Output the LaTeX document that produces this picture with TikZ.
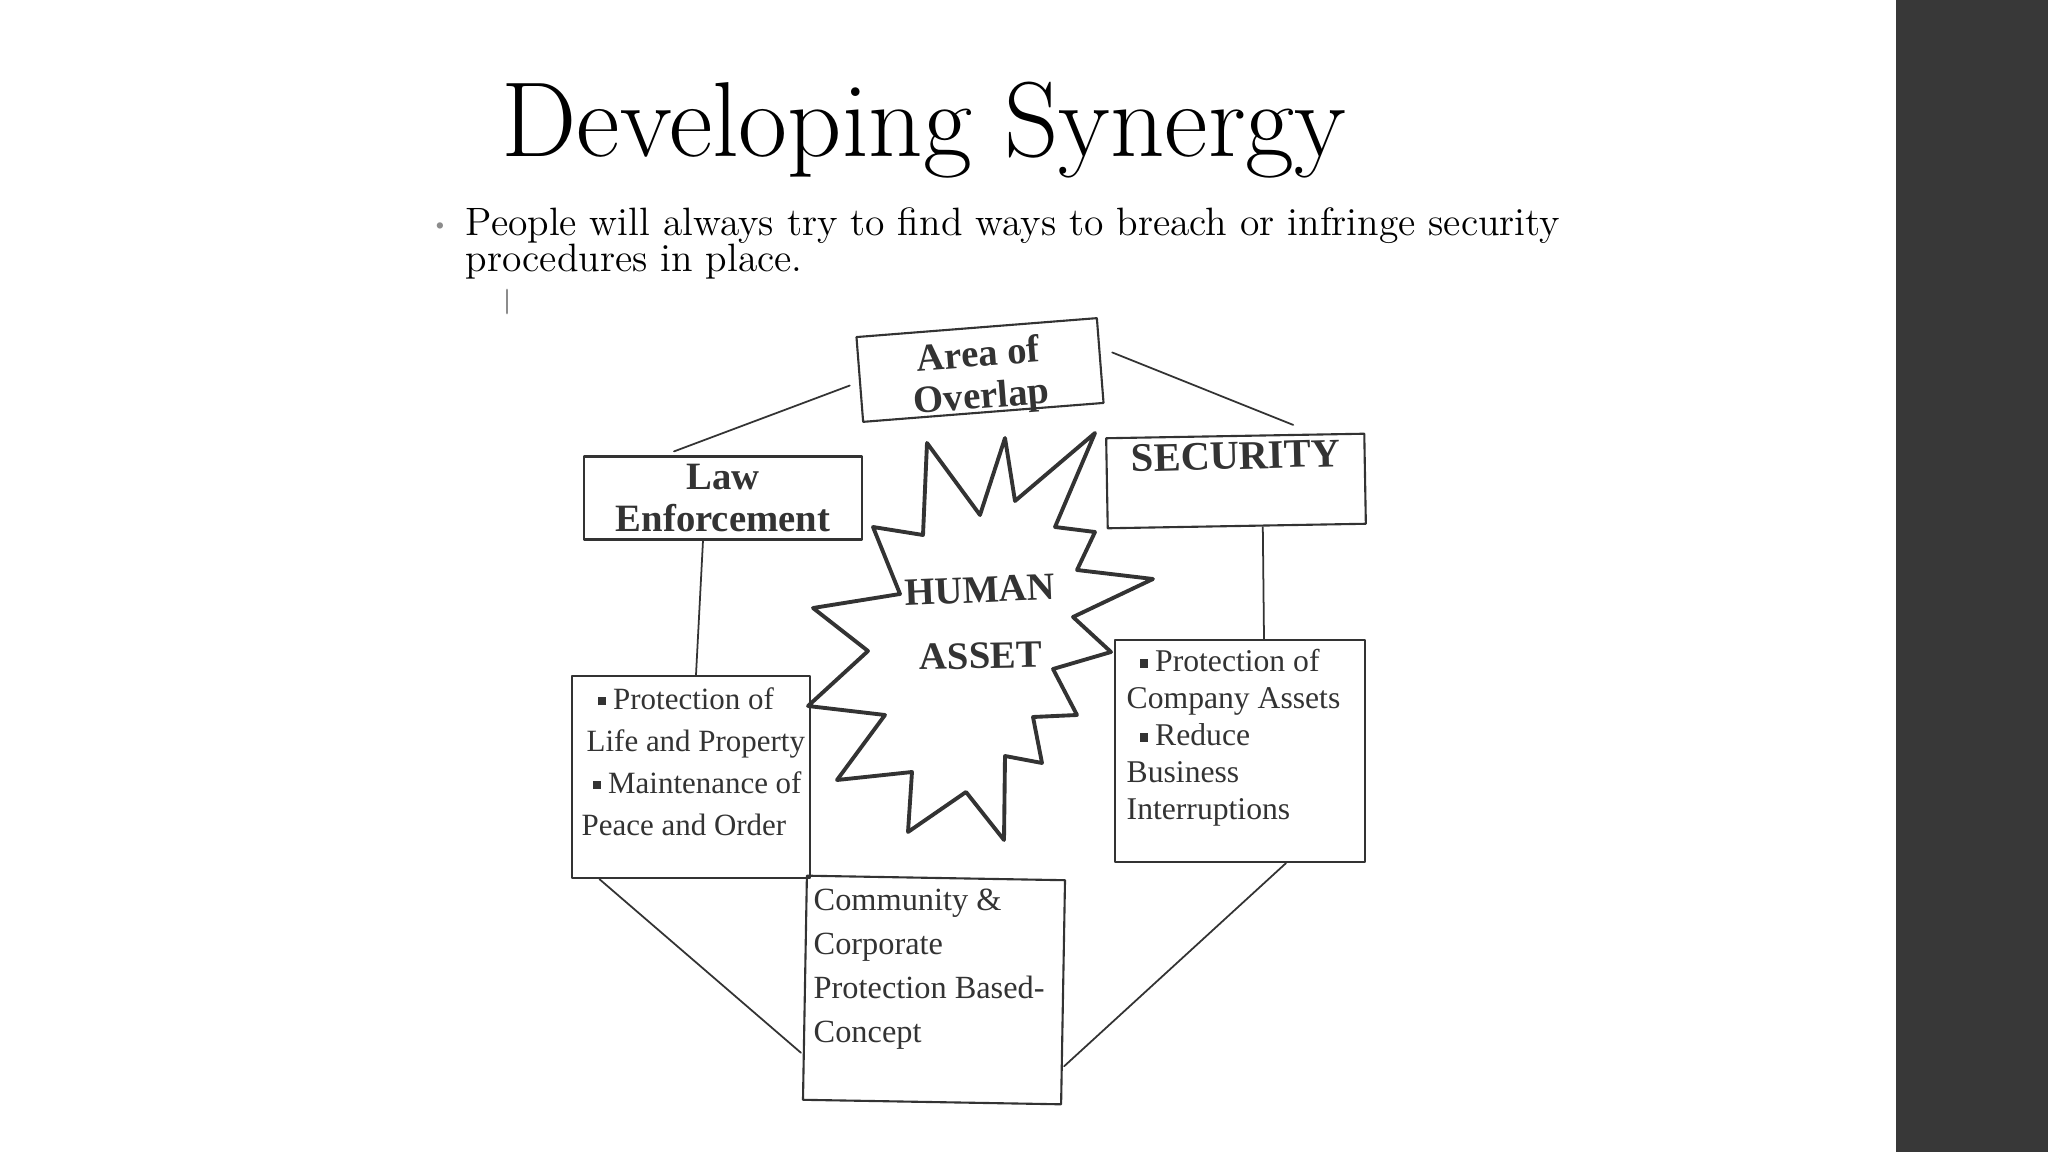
\documentclass[tikz,border=0pt]{standalone}
\usepackage{fontspec}
\newfontfamily\scanfont{Liberation Serif}
\usetikzlibrary{calc}
\definecolor{tttttt}{rgb}{0.2,0.2,0.2}
\definecolor{rsrsrs}{rgb}{0.22,0.22,0.22}
\definecolor{aaaaaa}{rgb}{0.55,0.55,0.55}
\newcommand{\sqb}{\raisebox{1.2pt}{\rule{2.4pt}{2.4pt}}\hspace{2pt}}

\begin{document}
\begin{tikzpicture}[line cap=round,line join=round,x=0.01cm,y=-0.01cm,
	box/.style={draw=tttttt,line width=0.6pt,inner sep=0pt},
	bold/.style={font=\scanfont\bfseries\fontsize{11}{12}\selectfont,align=center,text=tttttt},
	body/.style={font=\scanfont\fontsize{8.8}{11.9}\selectfont,align=left,anchor=north west,inner sep=0pt,text=tttttt},
	link/.style={draw=tttttt,line width=0.5pt}]
	\useasboundingbox (0,0) rectangle (2048,1152);
	\fill[color=white] (0,0) rectangle (2048,1152);
	\fill[color=rsrsrs] (1896,0) rectangle (2048,1152);
	\node[anchor=base,font=\fontsize{30.3}{34}\selectfont] (title) at (924,157) {Developing Synergy};
	\node[text=aaaaaa,font=\fontsize{6}{6}\selectfont] (dot) at (440,227) {\textbullet};
	\node[anchor=north west,inner sep=0pt,align=left,font=\fontsize{11.25}{9.4}\selectfont] (point) at (465,207) {People will always try to find ways to breach or infringe security\\[-0.8pt]procedures in place.};
	\draw[color=aaaaaa,line width=0.8pt] (507,290) -- (507,313);
	\node[box,rotate=4.5,minimum width=2.41cm,minimum height=0.85cm] (ovl) at (980,370) {};
		\node[bold,rotate=4.5] (ovltxt) at (980,378) {Area of\\Overlap};
	\node[box,bold,minimum width=2.78cm,minimum height=0.83cm] (law) at (723,498) {Law\\Enforcement};
	\node[box,rotate=1,minimum width=2.58cm,minimum height=0.9cm] (sec) at (1236,481) {};
		\node[bold,rotate=1.5,font=\scanfont\bfseries\fontsize{11.5}{11.5}\selectfont] (sectxt) at (1236,456) {SECURITY};
	\node[box,minimum width=2.37cm,minimum height=2.02cm] (life) at (691,777) {};
		\node[body] (lifetxt) at (581,687) {\hspace*{0.16cm}\sqb Protection of\\\hspace*{0.05cm}Life and Property\\\hspace*{0.11cm}\sqb Maintenance of\\Peace and Order};
	\node[box,minimum width=2.5cm,minimum height=2.22cm] (comp) at (1240,751) {};
		\node[body,font=\scanfont\fontsize{9}{10.5}\selectfont] (comptxt) at (1126,649) {\hspace*{0.13cm}\sqb Protection of\\Company Assets\\\hspace*{0.13cm}\sqb Reduce\\Business\\Interruptions};
	\node[box,rotate=-1,minimum width=2.58cm,minimum height=2.24cm] (comm) at (934,990) {};
		\node[body,font=\scanfont\fontsize{9.2}{12.5}\selectfont] (commtxt) at (813,888) {Community \&\\Corporate\\Protection Based-\\Concept};
	\draw[color=tttttt,line width=1.1pt] (927,443) -- (980,515) -- (1005,438) -- (1015,501) -- (1095,433) -- (1055,527) -- (1095,532) -- (1077,570) -- (1153,579) -- (1073,617) -- (1111,652) -- (1053,669) -- (1077,715) -- (1033,717) -- (1042,763) -- (1005,756) -- (1004,840) -- (966,792) -- (908,832) -- (912,772) -- (837,780) -- (885,715) -- (808,706) -- (868,651) -- (813,608) -- (900,594) -- (873,527) -- (923,535) -- cycle;
	\node[bold,rotate=2.5] (human) at (980,590) {HUMAN};
	\node[bold,rotate=1] (asset) at (981,656) {ASSET};
	\draw[link] ($(ovl.west)+(-9,6)$) -- ($(law.north)+(-49,-4)$);
	\draw[link] ($(ovl.east)+(11,-8)$) -- ($(sec.north)+(58,-10)$);
	\draw[link] ($(law.south)+(-20,0)$) -- ($(life.north)+(5,0)$);
	\draw[link] ($(sec.south)+(26,0)$) -- ($(comp.north)+(24,0)$);
	\draw[link] ($(life.south west)+(28,0)$) -- ($(comm.west)+(-3,65)$);
	\draw[link] ($(comp.south)+(46,0)$) -- ($(comm.east)+(0,74)$);
\end{tikzpicture}
\end{document}
